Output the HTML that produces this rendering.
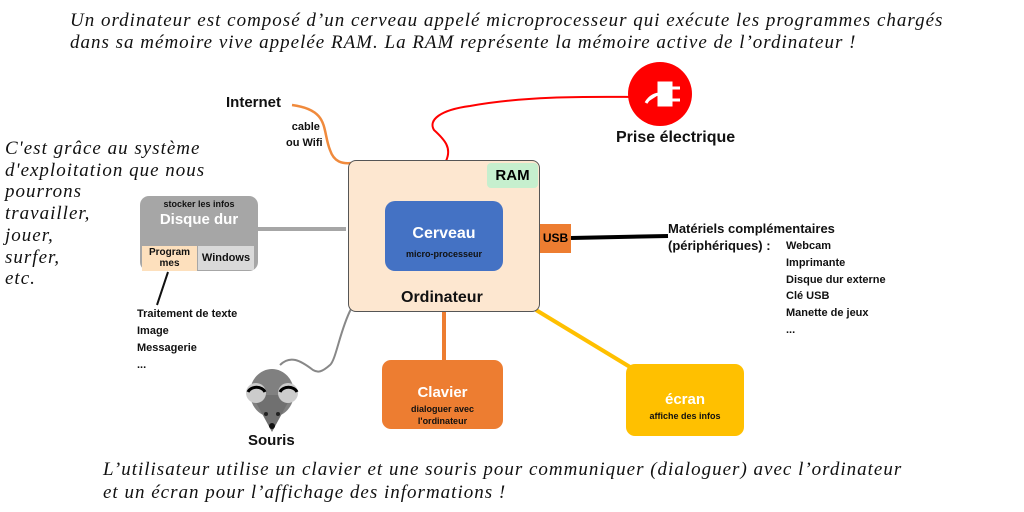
<!DOCTYPE html>
<html><head><meta charset="utf-8"><style>
body{margin:0;width:1024px;height:512px;background:#fff;position:relative;overflow:hidden;font-family:"Liberation Sans",sans-serif}
.a{position:absolute;white-space:nowrap}
.it{font-family:"Liberation Serif",serif;font-style:italic;font-size:19px;letter-spacing:1px;color:#111}
.b{font-weight:bold;color:#111}
.box{position:absolute;border-radius:9px;text-align:center;font-weight:bold}
</style></head><body>
<svg width="1024" height="512" style="position:absolute;left:0;top:0">
<path d="M292,105 C330,110 322,130 330,150 C334,162 342,164 352,163" stroke="#f08a3c" stroke-width="2.5" fill="none"/>
<path d="M446,161 C452,148 445,140 434,130 C428,120 440,110 470,106 C530,95 600,97 640,97" stroke="#f00" stroke-width="2" fill="none"/>
<line x1="258" y1="229" x2="346" y2="229" stroke="#a6a6a6" stroke-width="4"/>
<line x1="168" y1="272" x2="157" y2="305" stroke="#111" stroke-width="2"/>
<line x1="571" y1="238" x2="668" y2="236" stroke="#000" stroke-width="4"/>
<line x1="444" y1="311" x2="444" y2="361" stroke="#ed7d31" stroke-width="4"/>
<line x1="536" y1="310" x2="630" y2="367" stroke="#ffc000" stroke-width="4"/>
<path d="M351,309 C340,330 336,360 330,365 C322,372 318,373 313,370 C300,360 290,355 280,365" stroke="#888" stroke-width="2" fill="none"/>
<circle cx="660" cy="94" r="32" fill="#f00"/>
<path d="M646,103 C650,96 656,94 660,94 M659,83 h12 v22 h-12 z M671,88 h9 M671,100 h9" stroke="#fff" stroke-width="3" fill="#fff"/>
<ellipse cx="272" cy="393" rx="22" ry="24" fill="#808080"/>
<path d="M252,395 L272,432 L292,395 Z" fill="#707070"/>
<circle cx="256" cy="393" r="10" fill="#ccc"/><circle cx="288" cy="393" r="10" fill="#ccc"/>
<path d="M248,392 a9,7 0 0 1 17,0" stroke="#000" stroke-width="3" fill="none"/>
<path d="M280,392 a9,7 0 0 1 17,0" stroke="#000" stroke-width="3" fill="none"/>
<circle cx="266" cy="414" r="2" fill="#222"/><circle cx="278" cy="414" r="2" fill="#222"/>
<circle cx="272" cy="426" r="3" fill="#111"/>
</svg>
<div class="a it" style="left:70px;top:10px;line-height:22px">Un ordinateur est composé d’un cerveau appelé microprocesseur qui exécute les programmes chargés<br>dans sa mémoire vive appelée RAM. La RAM représente la mémoire active de l’ordinateur !</div>
<div class="a it" style="left:5px;top:138px;line-height:21.7px">C'est grâce au système<br>d'exploitation que nous<br>pourrons<br>travailler,<br>jouer,<br>surfer,<br>etc.</div>
<div class="a it" style="left:103px;top:458px;line-height:23px">L’utilisateur utilise un clavier et une souris pour communiquer (dialoguer) avec l’ordinateur<br>et un écran pour l’affichage des informations !</div>
<div class="a b" style="left:226px;top:94px;font-size:15px">Internet</div>
<div class="a b" style="left:286px;top:119px;font-size:11px;text-align:center;line-height:16px">&nbsp;cable<br>ou Wifi</div>
<div class="a b" style="left:616px;top:129px;font-size:16px">Prise électrique</div>
<div class="box" style="left:348px;top:160px;width:190px;height:150px;background:#fde7d0;border:1.5px solid #555;border-radius:8px"></div>
<div class="box" style="left:487px;top:163px;width:51px;height:25px;background:#c6efce;border-radius:4px;font-size:15px;line-height:25px">RAM</div>
<div class="box" style="left:385px;top:201px;width:118px;height:70px;background:#4472c4;border-radius:10px;color:#fff"><div style="font-size:16px;margin-top:24px">Cerveau</div><div style="font-size:9px;color:#111;margin-top:6px">micro-processeur</div></div>
<div class="a b" style="left:401px;top:289px;font-size:16px">Ordinateur</div>
<div class="box" style="left:540px;top:224px;width:31px;height:29px;background:#ed7d31;border-radius:0;font-size:12px;line-height:29px">USB</div>
<div class="a b" style="left:668px;top:220px;font-size:13px;line-height:17px">Matériels complémentaires<br>(périphériques) :</div>
<div class="a b" style="left:786px;top:238px;font-size:11px;line-height:16.8px">Webcam<br>Imprimante<br>Disque dur externe<br>Clé USB<br>Manette de jeux<br>...</div>
<div class="box" style="left:140px;top:196px;width:118px;height:75px;background:#a6a6a6;border-radius:9px">
<div style="font-size:9px;color:#111;margin-top:3px">stocker les infos</div>
<div style="font-size:15px;color:#fff;margin-top:2px">Disque dur</div>
<div style="position:absolute;left:2px;top:50px;width:55px;height:24px;background:#fde0bd;font-size:10px;line-height:11px;color:#111;padding-top:1px">Program<br>mes</div>
<div style="position:absolute;left:58px;top:50px;width:56px;height:24px;background:#d9d9d9;font-size:11px;line-height:24px;color:#111">Windows</div>
</div>
<div class="a b" style="left:137px;top:306px;font-size:11px;line-height:17px">Traitement de texte<br>Image<br>Messagerie<br>...</div>
<div class="box" style="left:382px;top:360px;width:121px;height:69px;background:#ed7d31;border-radius:9px"><div style="font-size:15px;color:#fff;margin-top:24px">Clavier</div><div style="font-size:9px;color:#111;line-height:12px;margin-top:2px">dialoguer avec<br>l'ordinateur</div></div>
<div class="box" style="left:626px;top:364px;width:118px;height:72px;background:#ffc000;border-radius:9px"><div style="font-size:15px;color:#fff;margin-top:27px">écran</div><div style="font-size:9px;color:#111;margin-top:3px">affiche des infos</div></div>
<div class="a b" style="left:248px;top:432px;font-size:15px">Souris</div>
</body></html>
